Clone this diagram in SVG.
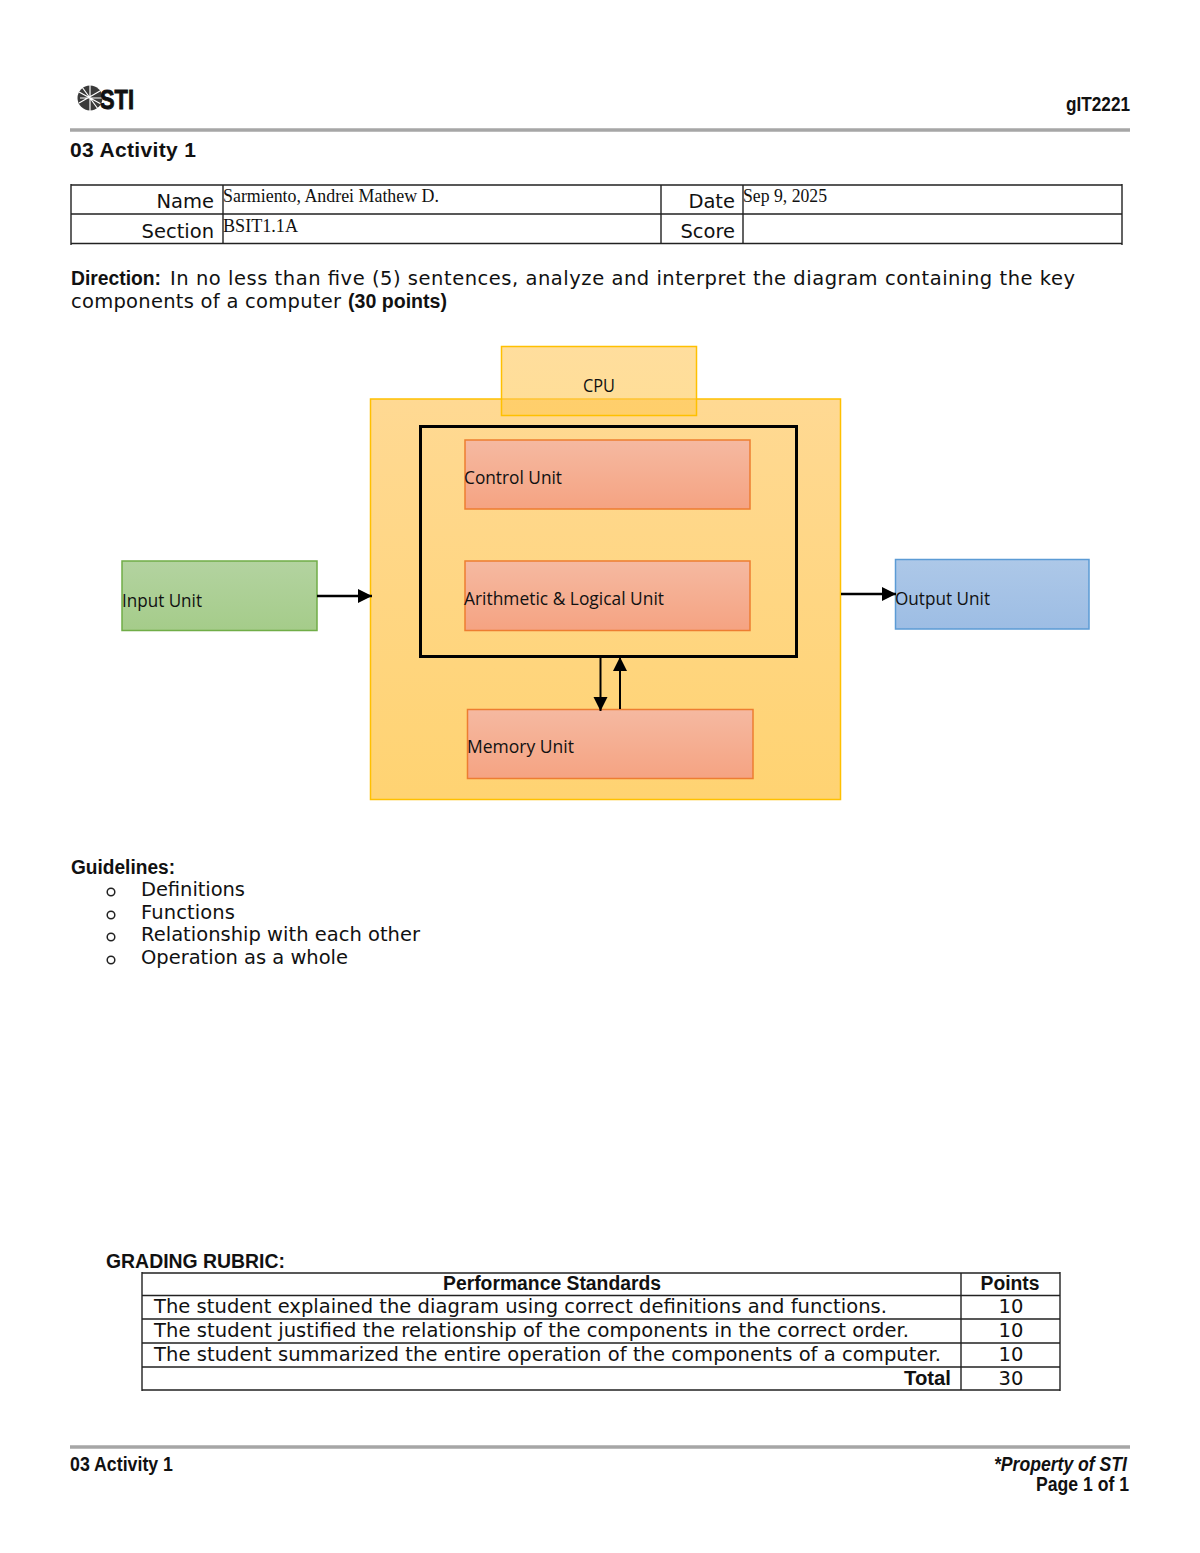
<svg xmlns="http://www.w3.org/2000/svg" width="1200" height="1553" viewBox="0 0 1200 1553">
<style>
text{fill:#111;white-space:pre}
.b{font-family:"Liberation Sans",Arial,sans-serif;font-weight:700;font-size:20px}
.v{font-family:"DejaVu Sans",Verdana,sans-serif;font-size:19.5px}
.s{font-family:"Liberation Serif","Times New Roman",serif;font-size:19px}
.d{font-family:"Open Sans","DejaVu Sans",sans-serif;font-size:18.5px}
.r{text-anchor:end}
.m{text-anchor:middle}
.rule{stroke:#a6a6a6;stroke-width:3.5;fill:none}
.tb{stroke:#222;stroke-width:1.4;fill:none}
.or{fill:url(#gOrange);stroke:#ffc000;stroke-width:1.5}
.sal{fill:url(#gSalmon);stroke:#ed7d31;stroke-width:1.5}
.c{stroke:#000;fill:none}
</style>
<defs>
<linearGradient id="gOrange" x1="0" y1="0" x2="0" y2="1"><stop offset="0" stop-color="#ffd993"/><stop offset="1" stop-color="#ffd372"/></linearGradient>
<linearGradient id="gCpu" x1="0" y1="0" x2="0" y2="1"><stop offset="0" stop-color="#ffc75c"/><stop offset="1" stop-color="#ffc850"/></linearGradient>
<linearGradient id="gSalmon" x1="0" y1="0" x2="0" y2="1"><stop offset="0" stop-color="#f5b9a1"/><stop offset="1" stop-color="#f5a382"/></linearGradient>
<linearGradient id="gGreen" x1="0" y1="0" x2="0" y2="1"><stop offset="0" stop-color="#b3d3a0"/><stop offset="1" stop-color="#a5cc8a"/></linearGradient>
<linearGradient id="gBlue" x1="0" y1="0" x2="0" y2="1"><stop offset="0" stop-color="#adc8e8"/><stop offset="1" stop-color="#9dbde4"/></linearGradient>
<marker id="ah" markerUnits="userSpaceOnUse" markerWidth="16" markerHeight="16" refX="14" refY="8" orient="auto"><path d="M0 1L14 8L0 15Z" fill="#000"/></marker>
</defs>
<rect width="1200" height="1553" fill="#fff"/>
<g id="header">
<g id="logo">
<circle cx="90" cy="98" r="12.500" fill="#3a3a3a"/>
<path d="M79 92L101 104M79 103L100 91M90 85V111M82 87L98 109M80 98H103" stroke="#fff" stroke-width="1.200" fill="none"/>
<text x="100" y="109" style="font-family:'Liberation Sans',sans-serif;font-weight:700;font-size:27px;stroke:#111;stroke-width:0.9" textLength="34" lengthAdjust="spacingAndGlyphs">STI</text>
</g>
<text x="1130" y="111" class="b r" textLength="64" lengthAdjust="spacingAndGlyphs">gIT2221</text>
<line x1="70" y1="130" x2="1130" y2="130" class="rule"/>
<text x="70" y="157" class="b" style="font-size:21px" textLength="126">03 Activity 1</text>
</g>
<g id="info-table">
<path d="M71 185H1122M71 214H1122M71 243.500H1122M71 184V245M223 185V244M661 185V244M743 185V244M1122 184V245" class="tb"/>
<text x="214" y="208" class="v r">Name</text>
<text x="214" y="238" class="v r">Section</text>
<text x="223" y="202" class="s" textLength="216" lengthAdjust="spacingAndGlyphs">Sarmiento, Andrei Mathew D.</text>
<text x="223" y="232" class="s" textLength="75" lengthAdjust="spacingAndGlyphs">BSIT1.1A</text>
<text x="735" y="208" class="v r">Date</text>
<text x="735" y="238" class="v r">Score</text>
<text x="743" y="202" class="s" textLength="84" lengthAdjust="spacingAndGlyphs">Sep 9, 2025</text>
</g>
<g id="direction">
<text x="71" y="285" class="b" textLength="90" lengthAdjust="spacingAndGlyphs">Direction:</text>
<text x="170" y="285" class="v" textLength="905">In no less than five (5) sentences, analyze and interpret the diagram containing the key</text>
<text x="71" y="308" class="v" textLength="270">components of a computer</text>
<text x="348" y="308" class="b" textLength="99" lengthAdjust="spacingAndGlyphs">(30 points)</text>
</g>
<g id="cpu-container"><rect x="370.500" y="399" width="470" height="400.500" class="or"/></g>
<g id="cpu-label"><rect x="501.500" y="346.500" width="195" height="69" fill="url(#gCpu)" fill-opacity="0.6" stroke="#ffc000" stroke-width="1.500"/><text x="599" y="392" class="d m" textLength="32" lengthAdjust="spacingAndGlyphs">CPU</text></g>
<g id="cpu-inner"><rect x="420.500" y="426.500" width="376" height="230" fill="none" stroke="#000" stroke-width="3"/></g>
<g id="control-unit"><rect x="465" y="440" width="285" height="69" class="sal"/><text x="464" y="484" class="d" textLength="98" lengthAdjust="spacingAndGlyphs">Control Unit</text></g>
<g id="alu"><rect x="465" y="561" width="285" height="69.500" class="sal"/><text x="464" y="605" class="d" textLength="200" lengthAdjust="spacingAndGlyphs">Arithmetic &amp; Logical Unit</text></g>
<g id="memory-unit"><rect x="467.500" y="709.500" width="285.500" height="69" class="sal"/><text x="467" y="753" class="d" textLength="107" lengthAdjust="spacingAndGlyphs">Memory Unit</text></g>
<g id="input-unit"><rect x="122" y="561" width="195" height="69.500" fill="url(#gGreen)" stroke="#70ad47" stroke-width="1.5"/><text x="122" y="607" class="d" textLength="80" lengthAdjust="spacingAndGlyphs">Input Unit</text></g>
<g id="output-unit"><rect x="895.500" y="559.500" width="193.500" height="69.500" fill="url(#gBlue)" stroke="#5b9bd5" stroke-width="1.5"/><text x="895" y="605" class="d" textLength="95" lengthAdjust="spacingAndGlyphs">Output Unit</text></g>
<g id="connectors">
<line x1="317" y1="596" x2="372" y2="596" class="c" stroke-width="2.500" marker-end="url(#ah)"/>
<line x1="841" y1="594" x2="896" y2="594" class="c" stroke-width="2.500" marker-end="url(#ah)"/>
<line x1="600.500" y1="657" x2="600.500" y2="711" class="c" stroke-width="2" marker-end="url(#ah)"/>
<line x1="620" y1="709" x2="620" y2="657" class="c" stroke-width="2" marker-end="url(#ah)"/>
</g>
<g id="guidelines">
<text x="71" y="874" class="b" textLength="104" lengthAdjust="spacingAndGlyphs">Guidelines:</text>
<g fill="none" stroke="#222" stroke-width="1.5"><circle cx="111" cy="892" r="3.800"/><circle cx="111" cy="915" r="3.800"/><circle cx="111" cy="937" r="3.800"/><circle cx="111" cy="960" r="3.800"/></g>
<text x="141" y="896" class="v" textLength="104">Definitions</text>
<text x="141" y="919" class="v" textLength="94">Functions</text>
<text x="141" y="941" class="v" textLength="279">Relationship with each other</text>
<text x="141" y="964" class="v" textLength="207">Operation as a whole</text>
</g>
<g id="rubric">
<text x="106" y="1268" class="b" textLength="179" lengthAdjust="spacingAndGlyphs">GRADING RUBRIC:</text>
<path d="M142 1273H1060M142 1295.500H1060M142 1319H1060M142 1343H1060M142 1367H1060M142 1390H1060M142 1272V1391M961 1273V1390M1060 1272V1391" class="tb"/>
<text x="552" y="1290" class="b m" textLength="218" lengthAdjust="spacingAndGlyphs">Performance Standards</text>
<text x="1010" y="1290" class="b m" textLength="59" lengthAdjust="spacingAndGlyphs">Points</text>
<text x="154" y="1313" class="v" textLength="733">The student explained the diagram using correct definitions and functions.</text>
<text x="154" y="1337" class="v" textLength="755">The student justified the relationship of the components in the correct order.</text>
<text x="154" y="1361" class="v" textLength="787">The student summarized the entire operation of the components of a computer.</text>
<text x="1011" y="1313" class="v m">10</text>
<text x="1011" y="1337" class="v m">10</text>
<text x="1011" y="1361" class="v m">10</text>
<text x="951" y="1385" class="b r" textLength="47" lengthAdjust="spacingAndGlyphs">Total</text>
<text x="1011" y="1385" class="v m">30</text>
</g>
<g id="footer">
<line x1="70" y1="1447" x2="1130" y2="1447" class="rule"/>
<text x="70" y="1471" class="b" textLength="103" lengthAdjust="spacingAndGlyphs">03 Activity 1</text>
<text x="1127" y="1471" class="b r" style="font-style:italic" textLength="133" lengthAdjust="spacingAndGlyphs">*Property of STI</text>
<text x="1129" y="1491" class="b r" textLength="93" lengthAdjust="spacingAndGlyphs">Page 1 of 1</text>
</g>
</svg>
